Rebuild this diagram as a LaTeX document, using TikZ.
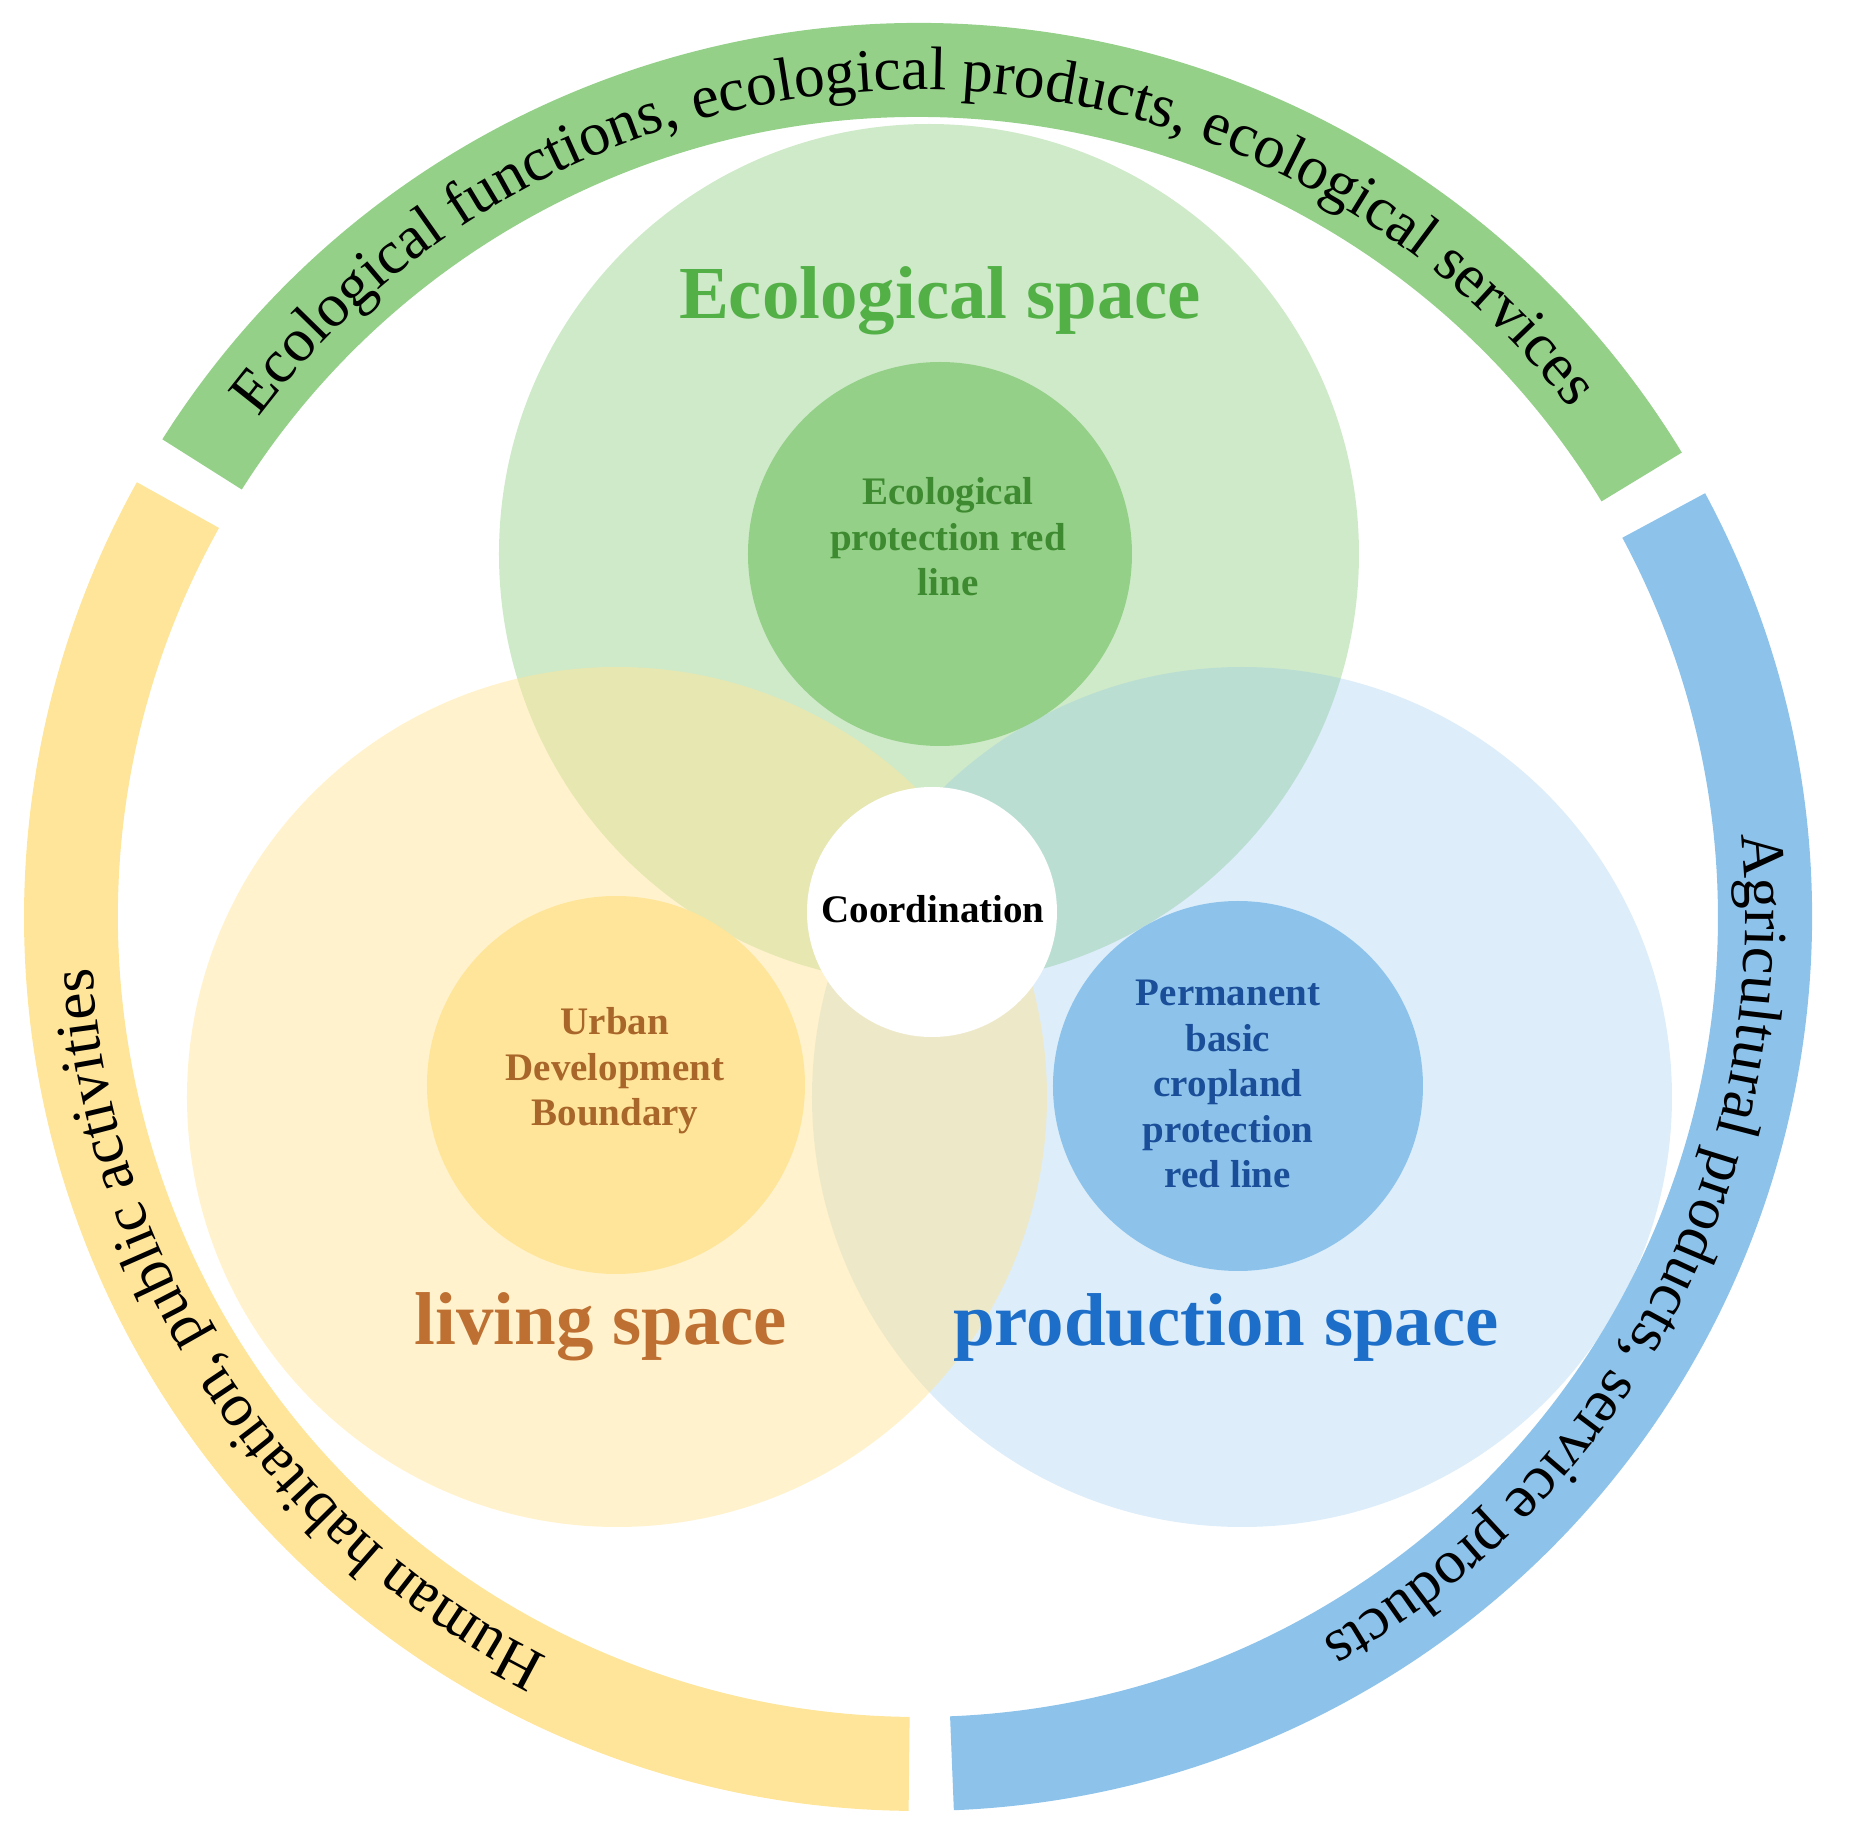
\documentclass[tikz,border=0pt]{standalone}
\usepackage{fontspec}
\setmainfont{Liberation Serif}
\usetikzlibrary{decorations.text}

\definecolor{ecogreen}{RGB}{148,208,136}
\definecolor{livyellow}{RGB}{255,229,153}
\definecolor{prodblue}{RGB}{141,195,235}
\definecolor{ecotext}{RGB}{82,176,70}
\definecolor{ecodark}{RGB}{62,138,48}
\definecolor{livtext}{RGB}{190,112,50}
\definecolor{livdark}{RGB}{168,102,42}
\definecolor{prodtext}{RGB}{28,110,200}
\definecolor{proddark}{RGB}{26,78,152}

\newcommand{\ringfont}{\fontsize{17.5}{20}\selectfont}

\begin{document}
\begin{tikzpicture}[
    bigdisc/.style={circle, inner sep=0pt, minimum size=8.6cm},
    redline/.style={circle, inner sep=0pt, fill=#1},
    biglabel/.style={inner sep=0pt, font=\fontsize{21.3}{25}\selectfont\bfseries},
    smalllabel/.style={inner sep=0pt, align=center, font=\fontsize{11.1}{12.95}\selectfont\bfseries},
    ringtext/.style={decorate, decoration={text along path, text align=center, text={|\ringfont|#1}}}
  ]
    \useasboundingbox (-9.18,-9.27) rectangle (9.31,9.17);

    % the three spaces
    \node[bigdisc, fill=ecogreen, fill opacity=0.45] (eco_space) at (0.11,3.63) {};
    \node[bigdisc, fill=prodblue, fill opacity=0.3] (prod_space) at (3.24,-1.80) {};
    \node[bigdisc, fill=livyellow, fill opacity=0.5] (liv_space) at (-3.01,-1.80) {};

    % red lines
    \node[redline=ecogreen, minimum size=3.84cm] (eco_red) at (0.22,3.63) {};
    \node[redline=livyellow, minimum size=3.78cm] (urban_red) at (-3.02,-1.68) {};
    \node[redline=prodblue, minimum size=3.70cm] (crop_red) at (3.20,-1.69) {};
    \node[redline=white, minimum size=2.5cm] (coord) at (0.14,0.05) {};

    \node[biglabel, text=ecotext] (eco_title) at (0.22,6.16) {Ecological space};
    \node[biglabel, text=livtext] (liv_title) at (-3.17,-4.10) {living space};
    \node[biglabel, text=prodtext] (prod_title) at (3.08,-4.10) {production space};

    \node[smalllabel, text=ecodark] (eco_red_txt) at (0.30,3.80) {Ecological\\protection red\\line};
    \node[smalllabel, text=livdark] (urban_red_txt) at (-3.03,-1.54) {Urban\\Development\\Boundary};
    \node[smalllabel, text=proddark] (crop_red_txt) at (3.10,-1.67) {Permanent\\basic\\cropland\\protection\\red line};
    \node[smalllabel] (coord_txt) at (0.15,0.075) {Coordination};

    % outer ring
    \fill[ecogreen] (147.7:8.94) arc[start angle=147.7, end angle=31.3, radius=8.94]
      -- (31.3:8.0) arc[start angle=31.3, end angle=147.7, radius=8.0] -- cycle;
    \fill[livyellow] (269.4:8.94) arc[start angle=269.4, end angle=150.9, radius=8.94]
      -- (150.9:8.0) arc[start angle=150.9, end angle=269.4, radius=8.0] -- cycle;
    \fill[prodblue] (28.3:8.94) arc[start angle=28.3, end angle=-87.7, radius=8.94]
      -- (-87.7:8.0) arc[start angle=-87.7, end angle=28.3, radius=8.0] -- cycle;

    \path[ringtext={Ecological functions, ecological products, ecological services}]
      (150.4:8.27) arc[start angle=150.4, end angle=30.4, radius=8.27];
    \path[ringtext={Human habitation, public activities}]
      (258.5:8.27) arc[start angle=258.5, end angle=168.5, radius=8.27];
    \path[ringtext={Agricultural products, service products}]
      (17.5:8.27) arc[start angle=17.5, end angle=-72.5, radius=8.27];
\end{tikzpicture}
\end{document}
